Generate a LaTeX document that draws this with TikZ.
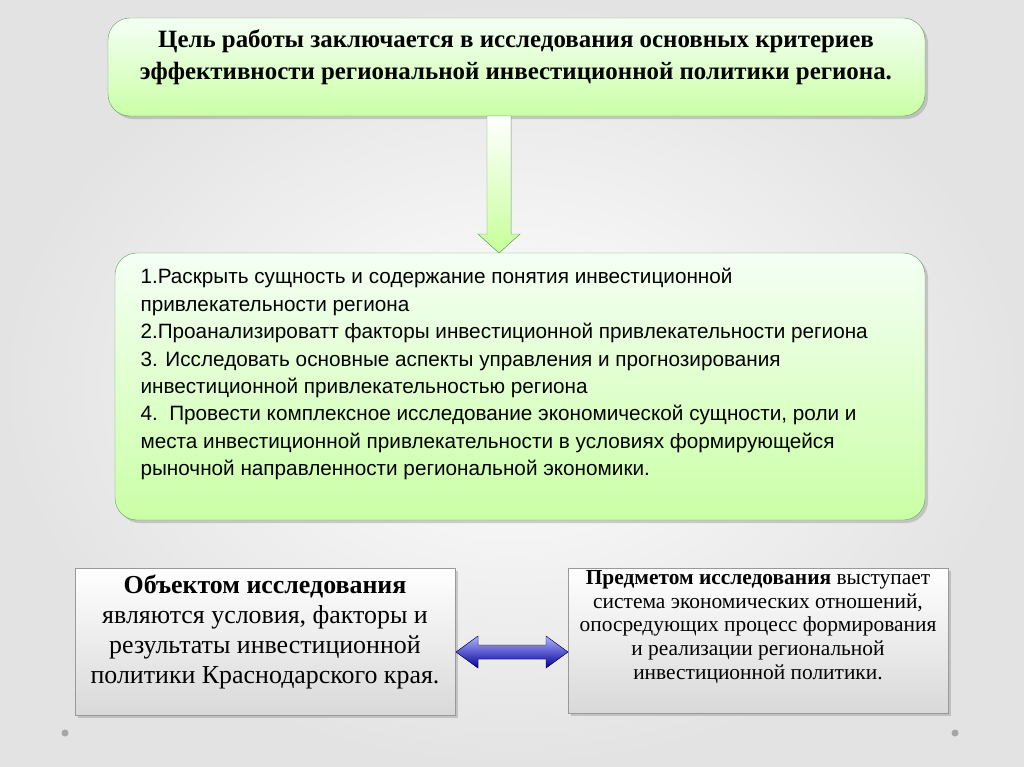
\documentclass[tikz,border=0pt]{standalone}
\usepackage{fontspec}
\setmainfont{Liberation Serif}
\newfontfamily\arialf{Liberation Sans}
\usetikzlibrary{shapes.arrows,shadows}
\begin{document}
\begin{tikzpicture}[x=1bp,y=-1bp,
 gbox/.style={draw=gray!70!green,rounded corners=22bp,top color=green!4!white,bottom color=green!45!lime!35!white,drop shadow={opacity=0.35,shadow xshift=3bp,shadow yshift=-3bp}},
 sbox/.style={draw=gray!80,top color=white,bottom color=gray!30,drop shadow={opacity=0.35,shadow xshift=3bp,shadow yshift=-3bp}}]
\useasboundingbox (0,0) rectangle (1024,767);
\fill[inner color=white,outer color=gray!22] (0,0) rectangle (1024,767);
\path[gbox] (108,18) rectangle (925,116);
\node[align=center,font=\bfseries\fontsize{25}{32}\selectfont] (goal) at (516,57) {Цель работы заключается в исследования основных критериев\\эффективности региональной инвестиционной политики региона.};
\fill[top color=white,bottom color=green!40!lime!40!white,draw=gray!70!green] (487,116)--(511,116)--(511,234)--(520,234)--(499,253)--(478,234)--(487,234)--cycle;
\path[gbox] (115,253) rectangle (925,520);
\node[anchor=north west,align=left,font=\arialf\fontsize{20.8}{27.5}\selectfont] (tasks) at (137,265) {1.Раскрыть сущность и содержание понятия инвестиционной\\привлекательности региона\\2.Проанализироватт факторы инвестиционной привлекательности региона\\3. Исследовать основные аспекты управления и прогнозирования\\инвестиционной привлекательностью региона\\4.\ \ Провести комплексное исследование экономической сущности, роли и\\места инвестиционной привлекательности в условиях формирующейся\\рыночной направленности региональной экономики.};
\path[sbox] (75,568) rectangle (455,715);
\node[align=center,font=\fontsize{26}{30}\selectfont] (obj) at (265,632) {\textbf{Объектом исследования}\\являются условия, факторы и\\результаты инвестиционной\\политики Краснодарского края.};
\path[sbox] (568,568) rectangle (948,713);
\node[align=center,font=\fontsize{21.5}{24}\selectfont] (subj) at (758,627) {\textbf{Предметом исследования} выступает\\система экономических отношений,\\опосредующих процесс формирования\\и реализации региональной\\инвестиционной политики.};
\fill[top color=blue!30!white,bottom color=blue!60!black,draw=blue!40!black] (456,652)--(478,636)--(478,645)--(546,645)--(546,636)--(568,652)--(546,668)--(546,659)--(478,659)--(478,668)--cycle;
\fill[gray!70] (65,733) circle (3.5bp) (955,733) circle (3.5bp);
\end{tikzpicture}
\end{document}
